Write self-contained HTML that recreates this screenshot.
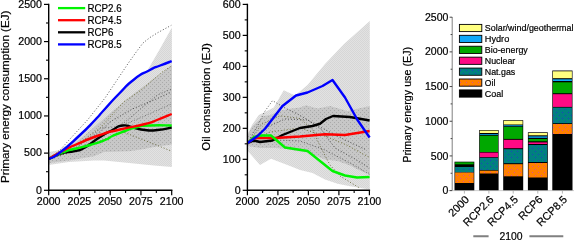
<!DOCTYPE html>
<html><head><meta charset="utf-8"><title>RCP energy</title>
<style>html,body{margin:0;padding:0;background:#fff}svg{display:block}text{font-family:"Liberation Sans",Arial,Helvetica,sans-serif;fill:#000;stroke:#000;stroke-width:.2px}</style></head><body>
<svg width="575" height="240" viewBox="0 0 575 240">
<defs><pattern id="dots" width="4" height="4" patternUnits="userSpaceOnUse"><rect width="4" height="4" fill="#c7c7c7"/><rect x="0" y="0" width="1" height="1" fill="#a9a9a9"/><rect x="2" y="2" width="1" height="1" fill="#a9a9a9"/></pattern><pattern id="dteal" width="6" height="6" patternUnits="userSpaceOnUse"><rect width="6" height="6" fill="#008080"/><rect x="1" y="1" width="1" height="1" fill="#2040c0"/><rect x="4" y="4" width="1" height="1" fill="#2040c0"/></pattern><pattern id="dor" width="6" height="6" patternUnits="userSpaceOnUse"><rect width="6" height="6" fill="#ff8000"/><rect x="1" y="1" width="1" height="1" fill="#e05090"/><rect x="4" y="4" width="1" height="1" fill="#e05090"/></pattern><pattern id="lg" width="2" height="2" patternUnits="userSpaceOnUse"><rect width="2" height="2" fill="#e2e2e2"/><rect x="0" y="0" width="1" height="1" fill="#d6d6d6"/><rect x="1" y="1" width="1" height="1" fill="#d6d6d6"/></pattern></defs>
<rect width="575" height="240" fill="#fff"/>
<polygon points="48.70,152.00 60.00,150.00 80.00,135.00 95.00,120.00 104.00,110.00 119.00,93.75 127.00,86.00 134.00,79.50 141.00,75.00 146.50,72.00 153.50,60.00 159.30,50.00 171.90,27.50 171.90,167.00 154.00,165.60 129.00,163.00 104.00,160.60 94.00,160.60 69.00,162.00 48.70,165.00" fill="url(#lg)"/>
<polygon points="48.70,156.00 60.00,152.00 75.00,143.00 84.00,136.00 100.00,122.00 125.70,100.00 150.00,81.50 171.90,65.00 171.90,144.40 154.00,147.00 141.50,149.40 129.00,151.25 104.00,152.00 94.00,156.25 69.00,160.60 48.70,163.00" fill="url(#dots)"/>
<path d="M48.70 159.00 L60.00 150.00 L75.00 133.50 L87.50 120.00 L104.80 98.30 L117.40 79.50 L128.20 63.30 L136.75 51.25 L143.00 43.00 L150.00 37.50 L158.00 32.50 L171.30 25.30" fill="none" stroke="#444" stroke-width="0.9" stroke-dasharray="1 2"/>
<path d="M48.70 159.00 L75.00 146.00 L100.00 128.00 L124.00 101.70 L139.00 91.70 L162.30 72.00 L171.50 66.00" fill="none" stroke="#6a6a2c" stroke-width="0.9" stroke-dasharray="1 2"/>
<path d="M48.70 159.00 L75.00 148.00 L100.00 131.70 L109.00 122.50 L132.30 109.00 L154.00 100.00 L171.50 92.00" fill="none" stroke="#444" stroke-width="0.9" stroke-dasharray="1 2"/>
<path d="M48.70 159.00 L75.00 150.00 L100.00 138.00 L125.00 122.00 L157.30 95.00 L171.50 89.00" fill="none" stroke="#555" stroke-width="0.9" stroke-dasharray="1 2"/>
<path d="M48.70 159.00 L75.00 151.00 L100.00 141.00 L122.30 131.70 L145.00 140.50 L170.70 150.80" fill="none" stroke="#5e5e30" stroke-width="0.9" stroke-dasharray="1 2"/>
<path d="M48.70 159.00 L75.00 149.50 L100.70 128.00 L119.00 126.70 L140.00 118.00 L171.50 104.00" fill="none" stroke="#666" stroke-width="0.9" stroke-dasharray="1 2"/>
<path d="M48.70 159.00 C52.47 157.25 51.23 156.42 60.00 153.75 C68.77 151.08 66.67 153.08 75.00 151.00 C83.33 148.92 76.67 152.17 85.00 147.50 C93.33 142.83 90.83 142.83 100.00 137.00 C109.17 131.17 105.00 133.83 112.50 130.00 C120.00 126.17 115.67 126.33 122.50 125.50 C129.33 124.67 125.50 126.00 133.00 127.50 C140.50 129.00 136.83 129.17 145.00 130.00 C153.17 130.83 148.60 130.83 157.50 130.00 C166.40 129.17 166.97 128.33 171.70 127.50" fill="none" stroke="#000000" stroke-width="2.4" stroke-linejoin="round"/>
<path d="M48.70 159.00 C53.30 156.83 53.73 155.92 62.50 152.50 C71.27 149.08 65.83 151.25 75.00 148.75 C84.17 146.25 80.00 147.92 90.00 145.00 C100.00 142.08 97.50 143.00 105.00 140.00 C112.50 137.00 105.83 139.00 112.50 136.00 C119.17 133.00 116.67 134.00 125.00 131.00 C133.33 128.00 129.17 128.83 137.50 127.00 C145.83 125.17 138.60 126.00 150.00 125.50 C161.40 125.00 164.47 125.50 171.70 125.50" fill="none" stroke="#00f400" stroke-width="2.4" stroke-linejoin="round"/>
<path d="M48.70 159.00 C53.30 156.33 53.73 155.67 62.50 151.00 C71.27 146.33 62.50 150.33 75.00 145.00 C87.50 139.67 85.00 140.17 100.00 135.00 C115.00 129.83 105.00 133.17 120.00 129.50 C135.00 125.83 132.67 127.17 145.00 124.00 C157.33 120.83 148.10 123.33 157.00 120.00 C165.90 116.67 166.80 116.00 171.70 114.00" fill="none" stroke="#ff0000" stroke-width="2.4" stroke-linejoin="round"/>
<path d="M48.70 159.00 C52.47 156.83 49.57 160.50 60.00 152.50 C70.43 144.50 68.33 145.83 80.00 135.00 C91.67 124.17 87.00 128.33 95.00 120.00 C103.00 111.67 96.00 118.75 104.00 110.00 C112.00 101.25 109.00 103.92 119.00 93.75 C129.00 83.58 124.00 87.25 134.00 79.50 C144.00 71.75 140.25 75.17 149.00 70.50 C157.75 65.83 152.68 68.60 160.25 65.50 C167.82 62.40 167.88 62.63 171.70 61.20" fill="none" stroke="#0000ff" stroke-width="2.4" stroke-linejoin="round"/>
<path d="M48.7 3.7 V190.3 H172.39999999999998" fill="none" stroke="#000" stroke-width="1.4"/>
<path d="M44.0 190.3 H48.7" stroke="#000" stroke-width="1.2"/>
<text x="41.900000000000006" y="193.5" font-size="10.3" text-anchor="end" textLength="5.92" lengthAdjust="spacingAndGlyphs">0</text>
<path d="M44.0 153.12 H48.7" stroke="#000" stroke-width="1.2"/>
<text x="41.900000000000006" y="156.32" font-size="10.3" text-anchor="end" textLength="17.76" lengthAdjust="spacingAndGlyphs">500</text>
<path d="M44.0 115.94000000000001 H48.7" stroke="#000" stroke-width="1.2"/>
<text x="41.900000000000006" y="119.14000000000001" font-size="10.3" text-anchor="end" textLength="23.68" lengthAdjust="spacingAndGlyphs">1000</text>
<path d="M44.0 78.76000000000002 H48.7" stroke="#000" stroke-width="1.2"/>
<text x="41.900000000000006" y="81.96000000000002" font-size="10.3" text-anchor="end" textLength="23.68" lengthAdjust="spacingAndGlyphs">1500</text>
<path d="M44.0 41.58000000000001 H48.7" stroke="#000" stroke-width="1.2"/>
<text x="41.900000000000006" y="44.780000000000015" font-size="10.3" text-anchor="end" textLength="23.68" lengthAdjust="spacingAndGlyphs">2000</text>
<path d="M44.0 4.400000000000006 H48.7" stroke="#000" stroke-width="1.2"/>
<text x="41.900000000000006" y="7.600000000000006" font-size="10.3" text-anchor="end" textLength="23.68" lengthAdjust="spacingAndGlyphs">2500</text>
<path d="M46.0 171.71 H48.7" stroke="#000" stroke-width="1.1"/>
<path d="M46.0 134.53000000000003 H48.7" stroke="#000" stroke-width="1.1"/>
<path d="M46.0 97.35000000000001 H48.7" stroke="#000" stroke-width="1.1"/>
<path d="M46.0 60.170000000000016 H48.7" stroke="#000" stroke-width="1.1"/>
<path d="M46.0 22.99000000000001 H48.7" stroke="#000" stroke-width="1.1"/>
<path d="M48.7 190.3 V195.3" stroke="#000" stroke-width="1.2"/>
<text x="48.7" y="205.20000000000002" font-size="10.3" text-anchor="middle" textLength="23.68" lengthAdjust="spacingAndGlyphs">2000</text>
<path d="M79.45 190.3 V195.3" stroke="#000" stroke-width="1.2"/>
<text x="79.45" y="205.20000000000002" font-size="10.3" text-anchor="middle" textLength="23.68" lengthAdjust="spacingAndGlyphs">2025</text>
<path d="M110.2 190.3 V195.3" stroke="#000" stroke-width="1.2"/>
<text x="110.2" y="205.20000000000002" font-size="10.3" text-anchor="middle" textLength="23.68" lengthAdjust="spacingAndGlyphs">2050</text>
<path d="M140.95 190.3 V195.3" stroke="#000" stroke-width="1.2"/>
<text x="140.95" y="205.20000000000002" font-size="10.3" text-anchor="middle" textLength="23.68" lengthAdjust="spacingAndGlyphs">2075</text>
<path d="M171.7 190.3 V195.3" stroke="#000" stroke-width="1.2"/>
<text x="171.7" y="205.20000000000002" font-size="10.3" text-anchor="middle" textLength="23.68" lengthAdjust="spacingAndGlyphs">2100</text>
<path d="M64.075 190.3 V193.10000000000002" stroke="#000" stroke-width="1.1"/>
<path d="M94.825 190.3 V193.10000000000002" stroke="#000" stroke-width="1.1"/>
<path d="M125.575 190.3 V193.10000000000002" stroke="#000" stroke-width="1.1"/>
<path d="M156.325 190.3 V193.10000000000002" stroke="#000" stroke-width="1.1"/>
<text transform="translate(8.7,182.9) rotate(-90)" font-size="11.7" textLength="172.3" lengthAdjust="spacingAndGlyphs">Primary energy consumption (EJ)</text>
<path d="M58 8.1 H85.2" stroke="#00f400" stroke-width="2.3"/>
<text x="87.5" y="11.899999999999999" font-size="10" textLength="34.2" lengthAdjust="spacingAndGlyphs">RCP2.6</text>
<path d="M58 20.2 H85.2" stroke="#ff0000" stroke-width="2.3"/>
<text x="87.5" y="24.0" font-size="10" textLength="34.2" lengthAdjust="spacingAndGlyphs">RCP4.5</text>
<path d="M58 32.3 H85.2" stroke="#000" stroke-width="2.3"/>
<text x="87.5" y="36.099999999999994" font-size="10" textLength="25.8" lengthAdjust="spacingAndGlyphs">RCP6</text>
<path d="M58 44.4 H85.2" stroke="#0000ff" stroke-width="2.3"/>
<text x="87.5" y="48.199999999999996" font-size="10" textLength="34.2" lengthAdjust="spacingAndGlyphs">RCP8.5</text>
<polygon points="247.70,134.00 252.00,125.00 258.75,115.00 265.00,112.00 273.75,107.50 283.75,90.25 295.00,95.50 307.50,85.00 325.00,64.00 344.00,44.00 369.80,21.00 369.80,189.60 350.00,186.25 337.50,183.75 325.00,179.40 312.50,173.00 300.00,170.00 290.00,166.00 271.00,158.75 260.00,165.00 247.70,151.00" fill="url(#lg)"/>
<polygon points="247.70,135.00 252.50,126.00 263.75,116.00 270.00,115.00 281.00,110.60 290.00,108.75 300.00,107.50 306.00,105.30 312.00,107.00 317.50,108.50 330.00,106.00 347.50,111.00 369.80,106.00 369.80,174.50 358.75,170.00 350.00,165.60 337.50,161.00 325.00,159.40 307.50,152.50 300.00,151.50 285.00,148.75 275.00,148.00 260.00,148.00 247.70,146.00" fill="url(#dots)"/>
<path d="M247.40 143.00 L258.00 125.00 L264.40 112.00 L272.50 100.60 L285.00 108.00 L297.50 114.00 L320.00 127.00 L345.00 140.00 L366.70 150.00" fill="none" stroke="#444" stroke-width="0.9" stroke-dasharray="1 2"/>
<path d="M247.40 143.00 L262.00 124.00 L280.00 115.80 L300.00 118.50 L313.00 130.00 L320.00 146.00 L330.00 165.00 L340.00 176.00 L358.75 187.50" fill="none" stroke="#5e5e30" stroke-width="0.9" stroke-dasharray="1 2"/>
<path d="M247.40 143.00 L265.00 128.00 L285.00 119.00 L308.00 120.00 L321.70 130.00 L335.00 148.00 L355.00 159.00 L369.50 168.00" fill="none" stroke="#444" stroke-width="0.9" stroke-dasharray="1 2"/>
<path d="M247.40 143.00 L270.00 132.00 L300.00 128.00 L326.70 136.70 L346.70 145.00 L369.50 157.50" fill="none" stroke="#6a6a2c" stroke-width="0.9" stroke-dasharray="1 2"/>
<path d="M247.40 143.00 L275.00 140.00 L300.00 141.00 L325.00 150.00 L353.75 165.00 L369.40 174.40" fill="none" stroke="#555" stroke-width="0.9" stroke-dasharray="1 2"/>
<path d="M247.70 143.00 L254.00 140.50 L260.00 142.00 L272.50 140.50 L282.50 135.00 L300.00 128.00 L312.50 126.00 L320.00 123.75 L326.00 119.00 L333.00 116.00 L350.00 117.00 L369.60 120.50" fill="none" stroke="#000000" stroke-width="2.4" stroke-linejoin="round"/>
<path d="M247.70 143.00 L254.00 138.00 L275.00 138.00 L300.00 136.50 L325.00 134.30 L345.00 135.00 L369.60 131.00" fill="none" stroke="#ff0000" stroke-width="2.4" stroke-linejoin="round"/>
<path d="M247.70 143.00 L254.00 137.00 L260.00 135.50 L271.00 135.50 L285.00 147.50 L307.50 151.00 L332.50 171.00 L345.00 175.50 L357.00 177.50 L369.60 177.00" fill="none" stroke="#00f400" stroke-width="2.4" stroke-linejoin="round"/>
<path d="M247.70 143.00 L257.50 136.00 L265.00 128.75 L272.50 119.00 L282.50 106.00 L296.00 95.50 L307.50 92.50 L322.50 86.00 L332.50 80.00 L345.00 97.50 L357.50 120.00 L369.60 137.50" fill="none" stroke="#0000ff" stroke-width="2.4" stroke-linejoin="round"/>
<path d="M247.4 3.7 V190.3 H370.09999999999997" fill="none" stroke="#000" stroke-width="1.4"/>
<path d="M242.70000000000002 190.3 H247.4" stroke="#000" stroke-width="1.2"/>
<text x="240.6" y="193.5" font-size="10.3" text-anchor="end" textLength="5.92" lengthAdjust="spacingAndGlyphs">0</text>
<path d="M242.70000000000002 159.31666666666666 H247.4" stroke="#000" stroke-width="1.2"/>
<text x="240.6" y="162.51666666666665" font-size="10.3" text-anchor="end" textLength="17.76" lengthAdjust="spacingAndGlyphs">100</text>
<path d="M242.70000000000002 128.33333333333334 H247.4" stroke="#000" stroke-width="1.2"/>
<text x="240.6" y="131.53333333333333" font-size="10.3" text-anchor="end" textLength="17.76" lengthAdjust="spacingAndGlyphs">200</text>
<path d="M242.70000000000002 97.35000000000001 H247.4" stroke="#000" stroke-width="1.2"/>
<text x="240.6" y="100.55000000000001" font-size="10.3" text-anchor="end" textLength="17.76" lengthAdjust="spacingAndGlyphs">300</text>
<path d="M242.70000000000002 66.36666666666667 H247.4" stroke="#000" stroke-width="1.2"/>
<text x="240.6" y="69.56666666666668" font-size="10.3" text-anchor="end" textLength="17.76" lengthAdjust="spacingAndGlyphs">400</text>
<path d="M242.70000000000002 35.383333333333326 H247.4" stroke="#000" stroke-width="1.2"/>
<text x="240.6" y="38.58333333333333" font-size="10.3" text-anchor="end" textLength="17.76" lengthAdjust="spacingAndGlyphs">500</text>
<path d="M242.70000000000002 4.400000000000006 H247.4" stroke="#000" stroke-width="1.2"/>
<text x="240.6" y="7.600000000000006" font-size="10.3" text-anchor="end" textLength="17.76" lengthAdjust="spacingAndGlyphs">600</text>
<path d="M244.70000000000002 174.80833333333334 H247.4" stroke="#000" stroke-width="1.1"/>
<path d="M244.70000000000002 143.82500000000002 H247.4" stroke="#000" stroke-width="1.1"/>
<path d="M244.70000000000002 112.84166666666667 H247.4" stroke="#000" stroke-width="1.1"/>
<path d="M244.70000000000002 81.85833333333335 H247.4" stroke="#000" stroke-width="1.1"/>
<path d="M244.70000000000002 50.875 H247.4" stroke="#000" stroke-width="1.1"/>
<path d="M244.70000000000002 19.89166666666668 H247.4" stroke="#000" stroke-width="1.1"/>
<path d="M247.4 190.3 V195.3" stroke="#000" stroke-width="1.2"/>
<text x="247.4" y="205.20000000000002" font-size="10.3" text-anchor="middle" textLength="23.68" lengthAdjust="spacingAndGlyphs">2000</text>
<path d="M277.9 190.3 V195.3" stroke="#000" stroke-width="1.2"/>
<text x="277.9" y="205.20000000000002" font-size="10.3" text-anchor="middle" textLength="23.68" lengthAdjust="spacingAndGlyphs">2025</text>
<path d="M308.4 190.3 V195.3" stroke="#000" stroke-width="1.2"/>
<text x="308.4" y="205.20000000000002" font-size="10.3" text-anchor="middle" textLength="23.68" lengthAdjust="spacingAndGlyphs">2050</text>
<path d="M338.9 190.3 V195.3" stroke="#000" stroke-width="1.2"/>
<text x="338.9" y="205.20000000000002" font-size="10.3" text-anchor="middle" textLength="23.68" lengthAdjust="spacingAndGlyphs">2075</text>
<path d="M369.4 190.3 V195.3" stroke="#000" stroke-width="1.2"/>
<text x="369.4" y="205.20000000000002" font-size="10.3" text-anchor="middle" textLength="23.68" lengthAdjust="spacingAndGlyphs">2100</text>
<path d="M262.65 190.3 V193.10000000000002" stroke="#000" stroke-width="1.1"/>
<path d="M293.15 190.3 V193.10000000000002" stroke="#000" stroke-width="1.1"/>
<path d="M323.65 190.3 V193.10000000000002" stroke="#000" stroke-width="1.1"/>
<path d="M354.15 190.3 V193.10000000000002" stroke="#000" stroke-width="1.1"/>
<text transform="translate(209.8,150.7) rotate(-90)" font-size="11.7" textLength="107.6" lengthAdjust="spacingAndGlyphs">Oil consumption (EJ)</text>
<rect x="454.5" y="161.7" width="19.80" height="28.90" fill="#000"/>
<rect x="455.1" y="162.3" width="18.60" height="2.00" fill="#00a800"/>
<rect x="455.1" y="167" width="18.60" height="5.50" fill="url(#dteal)"/>
<rect x="455.1" y="172.5" width="18.60" height="10.50" fill="url(#dor)"/>
<rect x="479.2" y="130" width="19.40" height="60.60" fill="#000"/>
<rect x="479.8" y="130.6" width="18.20" height="2.40" fill="#ffff80"/>
<rect x="479.8" y="134.1" width="18.20" height="0.80" fill="#10a8f8"/>
<rect x="479.8" y="135.7" width="18.20" height="16.30" fill="#00a800"/>
<rect x="479.8" y="152.6" width="18.20" height="4.60" fill="#ff0a84"/>
<rect x="479.8" y="157.8" width="18.20" height="12.40" fill="url(#dteal)"/>
<rect x="479.8" y="170.7" width="18.20" height="2.80" fill="url(#dor)"/>
<rect x="503.2" y="120.2" width="20.00" height="70.40" fill="#000"/>
<rect x="503.8" y="120.8" width="18.80" height="3.70" fill="#ffff80"/>
<rect x="503.8" y="125.3" width="18.80" height="0.90" fill="#10a8f8"/>
<rect x="503.8" y="126.9" width="18.80" height="12.00" fill="#00a800"/>
<rect x="503.8" y="139.8" width="18.80" height="8.40" fill="#ff0a84"/>
<rect x="503.8" y="149.2" width="18.80" height="14.00" fill="url(#dteal)"/>
<rect x="503.8" y="164.2" width="18.80" height="12.10" fill="url(#dor)"/>
<rect x="527.9" y="132.3" width="19.90" height="58.30" fill="#000"/>
<rect x="528.5" y="133" width="18.70" height="2.30" fill="#ffff80"/>
<rect x="528.5" y="136.4" width="18.70" height="1.40" fill="#10a8f8"/>
<rect x="528.5" y="139" width="18.70" height="2.30" fill="#00a800"/>
<rect x="528.5" y="142.4" width="18.70" height="1.60" fill="#ff0a84"/>
<rect x="528.5" y="145" width="18.70" height="17.00" fill="url(#dteal)"/>
<rect x="528.5" y="163" width="18.70" height="14.50" fill="url(#dor)"/>
<rect x="552.3" y="70.5" width="20.20" height="120.10" fill="#000"/>
<rect x="552.9" y="71.3" width="19.00" height="6.90" fill="#ffff80"/>
<rect x="552.9" y="79.3" width="19.00" height="1.70" fill="#10a8f8"/>
<rect x="552.9" y="82.3" width="19.00" height="10.90" fill="#00a800"/>
<rect x="552.9" y="94.2" width="19.00" height="12.70" fill="#ff0a84"/>
<rect x="552.9" y="107.6" width="19.00" height="15.60" fill="url(#dteal)"/>
<rect x="552.9" y="124" width="19.00" height="10.00" fill="url(#dor)"/>
<path d="M452.2 17 V190.6" fill="none" stroke="#555" stroke-width="0.75"/>
<path d="M448.2 190.6 H574" fill="none" stroke="#bbb" stroke-width="0.7"/>
<path d="M449.59999999999997 190.6 H452.2" stroke="#333" stroke-width="0.9"/>
<text x="448.4" y="194.2" font-size="10.3" text-anchor="end" textLength="5.85" lengthAdjust="spacingAndGlyphs">0</text>
<path d="M449.59999999999997 155.92 H452.2" stroke="#333" stroke-width="0.9"/>
<text x="448.4" y="159.51999999999998" font-size="10.3" text-anchor="end" textLength="17.55" lengthAdjust="spacingAndGlyphs">500</text>
<path d="M449.59999999999997 121.24 H452.2" stroke="#333" stroke-width="0.9"/>
<text x="448.4" y="124.83999999999999" font-size="10.3" text-anchor="end" textLength="23.40" lengthAdjust="spacingAndGlyphs">1000</text>
<path d="M449.59999999999997 86.56 H452.2" stroke="#333" stroke-width="0.9"/>
<text x="448.4" y="90.16" font-size="10.3" text-anchor="end" textLength="23.40" lengthAdjust="spacingAndGlyphs">1500</text>
<path d="M449.59999999999997 51.879999999999995 H452.2" stroke="#333" stroke-width="0.9"/>
<text x="448.4" y="55.48" font-size="10.3" text-anchor="end" textLength="23.40" lengthAdjust="spacingAndGlyphs">2000</text>
<path d="M449.59999999999997 17.19999999999999 H452.2" stroke="#333" stroke-width="0.9"/>
<text x="448.4" y="20.79999999999999" font-size="10.3" text-anchor="end" textLength="23.40" lengthAdjust="spacingAndGlyphs">2500</text>
<path d="M450.59999999999997 173.26 H452.2" stroke="#333" stroke-width="0.9"/>
<path d="M450.59999999999997 138.57999999999998 H452.2" stroke="#333" stroke-width="0.9"/>
<path d="M450.59999999999997 103.89999999999999 H452.2" stroke="#333" stroke-width="0.9"/>
<path d="M450.59999999999997 69.22 H452.2" stroke="#333" stroke-width="0.9"/>
<path d="M450.59999999999997 34.53999999999999 H452.2" stroke="#333" stroke-width="0.9"/>
<path d="M464.4 190.6 V193.6" stroke="#999" stroke-width="0.7"/>
<text transform="translate(469.9,200.1) rotate(-45)" font-size="10.9" text-anchor="end">2000</text>
<path d="M488.9 190.6 V193.6" stroke="#999" stroke-width="0.7"/>
<text transform="translate(494.4,200.1) rotate(-45)" font-size="10.9" text-anchor="end">RCP2.6</text>
<path d="M513.2 190.6 V193.6" stroke="#999" stroke-width="0.7"/>
<text transform="translate(518.7,200.1) rotate(-45)" font-size="10.9" text-anchor="end">RCP4.5</text>
<path d="M537.8 190.6 V193.6" stroke="#999" stroke-width="0.7"/>
<text transform="translate(543.3,200.1) rotate(-45)" font-size="10.9" text-anchor="end">RCP6</text>
<path d="M562.4 190.6 V193.6" stroke="#999" stroke-width="0.7"/>
<text transform="translate(567.9,200.1) rotate(-45)" font-size="10.9" text-anchor="end">RCP8.5</text>
<text transform="translate(410.8,162.8) rotate(-90)" font-size="11" textLength="116" lengthAdjust="spacingAndGlyphs">Primary energy use (EJ)</text>
<rect x="459.4" y="24.40" width="22.4" height="7.2" fill="#ffff80" stroke="#000" stroke-width="0.9"/>
<text x="484.8" y="31.30" font-size="9.3" textLength="88.7" lengthAdjust="spacingAndGlyphs">Solar/wind/geothermal</text>
<rect x="459.4" y="35.32" width="22.4" height="7.2" fill="#10a8f8" stroke="#000" stroke-width="0.9"/>
<text x="484.8" y="42.22" font-size="9.3" textLength="24.5" lengthAdjust="spacingAndGlyphs">Hydro</text>
<rect x="459.4" y="46.24" width="22.4" height="7.2" fill="#00a800" stroke="#000" stroke-width="0.9"/>
<text x="484.8" y="53.14" font-size="9.3" textLength="43" lengthAdjust="spacingAndGlyphs">Bio-energy</text>
<rect x="459.4" y="57.16" width="22.4" height="7.2" fill="#ff0a84" stroke="#000" stroke-width="0.9"/>
<text x="484.8" y="64.06" font-size="9.3" textLength="30.5" lengthAdjust="spacingAndGlyphs">Nuclear</text>
<rect x="459.4" y="68.08" width="22.4" height="7.2" fill="url(#dteal)" stroke="#000" stroke-width="0.9"/>
<text x="484.8" y="74.98" font-size="9.3" textLength="30.5" lengthAdjust="spacingAndGlyphs">Nat.gas</text>
<rect x="459.4" y="79.00" width="22.4" height="7.2" fill="url(#dor)" stroke="#000" stroke-width="0.9"/>
<text x="484.8" y="85.90" font-size="9.3" textLength="10.5" lengthAdjust="spacingAndGlyphs">Oil</text>
<rect x="459.4" y="89.92" width="22.4" height="7.2" fill="#000" stroke="#000" stroke-width="0.9"/>
<text x="484.8" y="96.82" font-size="9.3" textLength="18.5" lengthAdjust="spacingAndGlyphs">Coal</text>
<path d="M473.3 236.3 H488.6 M529.4 236.3 H563.3" stroke="#808080" stroke-width="2.1"/>
<text x="511" y="239.6" font-size="10.4" text-anchor="middle">2100</text>
</svg></body></html>
